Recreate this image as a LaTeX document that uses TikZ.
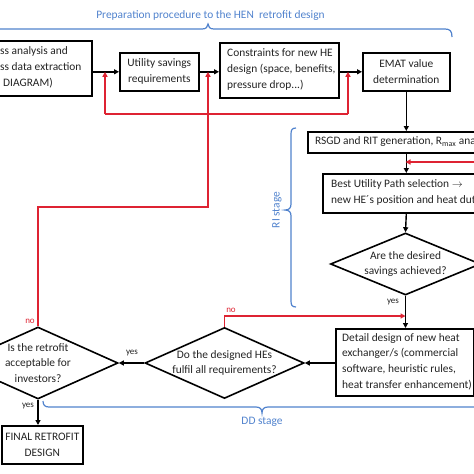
\documentclass[tikz,border=0pt]{standalone}
\usepackage{fontspec}
\setmainfont{Carlito}
\usetikzlibrary{arrows.meta,shapes.geometric}
\definecolor{myred}{RGB}{222,35,50}
\definecolor{myblue}{RGB}{80,130,205}
\definecolor{txt}{RGB}{35,35,35}
\begin{document}
\begin{tikzpicture}[x=1pt,y=-1pt,
  font=\fontsize{11.4}{15.7}\selectfont,
  box/.style={draw=black, line width=1.6pt, inner sep=0pt, text=txt},
  cbox/.style={box, align=center, anchor=north west},
  ebox/.style={box, anchor=north west},
  ltxt/.style={align=left, anchor=west, text=txt, inner sep=0pt},
  dia/.style={draw=black, line width=1.6pt, diamond, inner sep=0pt},
  dtxt/.style={align=center, text=txt, inner sep=0pt},
  arr/.style={draw=black, line width=1.4pt, -{Triangle[length=5pt,width=5pt]}},
  rarr/.style={draw=myred, line width=1.5pt, -{Triangle[length=5pt,width=5pt]}},
  rline/.style={draw=myred, line width=1.5pt},
  brace/.style={draw=myblue, line width=1.2pt},
  btxt/.style={text=myblue, inner sep=0pt},
  ylab/.style={font=\fontsize{9}{10}\selectfont, text=txt, inner sep=0pt},
  nlab/.style={font=\fontsize{9}{10}\selectfont, text=myred, inner sep=0pt}
]
\useasboundingbox (0,0) rectangle (474,474);
\clip (0,0) rectangle (474,474);

% boxes
\node[box, anchor=north east, minimum width=153pt, minimum height=55pt] (b1) at (93,40) {};
\node[ltxt] (b1t) at (0,67.5) {ss analysis and\\ss data extraction\\\hspace*{3pt}DIAGRAM)};
\node[cbox, minimum width=79pt, minimum height=38pt] (util) at (119,52) {Utility savings\\requirements};
\node[ebox, minimum width=119pt, minimum height=55pt] (cons) at (219,42) {};
\node[ltxt] (const) at (227,69.5) {Constraints for new HE\\design (space, benefits,\\pressure drop...)};
\node[cbox, minimum width=87pt, minimum height=38pt] (emat) at (362,52) {EMAT value\\determination};
\node[ebox, minimum width=220pt, minimum height=21pt] (rsgd) at (307,131) {};
\node[ltxt] (rsgdt) at (315,141.5) {RSGD and RIT generation, R$_{\mathrm{max}}$ analysis};
\node[ebox, minimum width=200pt, minimum height=39pt] (best) at (322,173) {};
\node[ltxt] (bestt) at (331,192.5) {Best Utility Path selection $\rightarrow$\\new HE´s position and heat duty};
\node[dia, minimum width=150pt, minimum height=62pt] (ri) at (405.5,264) {};
\node[dtxt] (rit) at (ri) {Are the desired\\savings achieved?};
\node[ebox, minimum width=138pt, minimum height=67pt] (det) at (335,328) {};
\node[ltxt] (dett) at (342,361.5) {Detail design of new heat\\exchanger/s (commercial\\software, heuristic rules,\\heat transfer enhancement)};
\node[dia, minimum width=159pt, minimum height=71pt] (mid) at (224.5,363) {};
\node[dtxt] (midt) at (mid) {Do the designed HEs\\fulfil all requirements?};
\node[dia, minimum width=160pt, minimum height=72pt] (left) at (38,363) {};
\node[dtxt] (leftt) at (left) {Is the retrofit\\acceptable for\\investors?};
\node[cbox, minimum width=81pt, minimum height=38pt] (fin) at (1,425) {FINAL RETROFIT\\DESIGN};

% black connectors
\draw[arr] (b1.east |- util.west) -- (util.west);
\draw[arr] (util.east) -- (util.east -| cons.west);
\draw[arr] (cons.east |- emat.west) -- (emat.west);
\draw[arr] (emat.south) -- (emat.south |- rsgd.north);
\draw[arr] (emat.south |- rsgd.south) -- (emat.south |- best.north);
\draw[arr] (emat.south |- best.south) -- (ri.north);
\draw[arr] (ri.south) -- (ri.south |- det.north);
\draw[arr] (det.west |- mid.east) -- (mid.east);
\draw[arr] (mid.west) -- (left.east);
\draw[arr] (left.south) -- (left.south |- fin.north);

% red feedback
\coordinate (r2) at (208,207);
\coordinate (r4) at (105,114);
\coordinate (r5) at (348,114);
\coordinate (m1) at (225,316);
\coordinate (rin) at (480,162);
\draw[rarr] (left.north) -- (left.north |- r2) -- (r2) -- (r2 |- util.east);
\draw[rline] (r4) -- (r5);
\draw[rarr] (r4) -- (r4 |- util.west);
\draw[rarr] (r5) -- (r5 |- emat.west);
\draw[rarr] (mid.north) -- (mid.north |- m1) -- (ri.south |- m1);
\draw[rarr] (rin) -- (rin -| ri.north);

% labels
\node[nlab] (no1) at (30,321) {no};
\node[nlab] (no2) at (231,310) {no};
\node[ylab] (y1) at (132,353) {yes};
\node[ylab] (y2) at (393,302) {yes};
\node[ylab] (y3) at (28,406) {yes};

% blue braces
\draw[brace] (-10,29) -- (202,29) .. controls (206,29) and (208,27) .. (208,24)
  .. controls (208,27) and (210,29) .. (214,29) -- (445,29)
  .. controls (450,29) and (452,31) .. (452,37);
\node[btxt] (prep) at (210.5,16) {Preparation procedure to the HEN\ \ retrofit design};
\draw[brace] (43,401) .. controls (43,405) and (45,407) .. (49,407) -- (256,407)
  .. controls (260,407) and (262,409) .. (262,413)
  .. controls (262,409) and (264,407) .. (268,407) -- (480,407);
\node[btxt] (dd) at (262,422) {DD stage};
\draw[brace] (296,128) .. controls (292,128) and (291,130) .. (291,134) -- (291,204)
  .. controls (291,208) and (289,210) .. (285,210)
  .. controls (289,210) and (291,212) .. (291,216) -- (291,301)
  .. controls (291,305) and (292,307) .. (296,307);
\node[btxt, rotate=90] (ris) at (277,210) {RI stage};
\end{tikzpicture}
\end{document}
